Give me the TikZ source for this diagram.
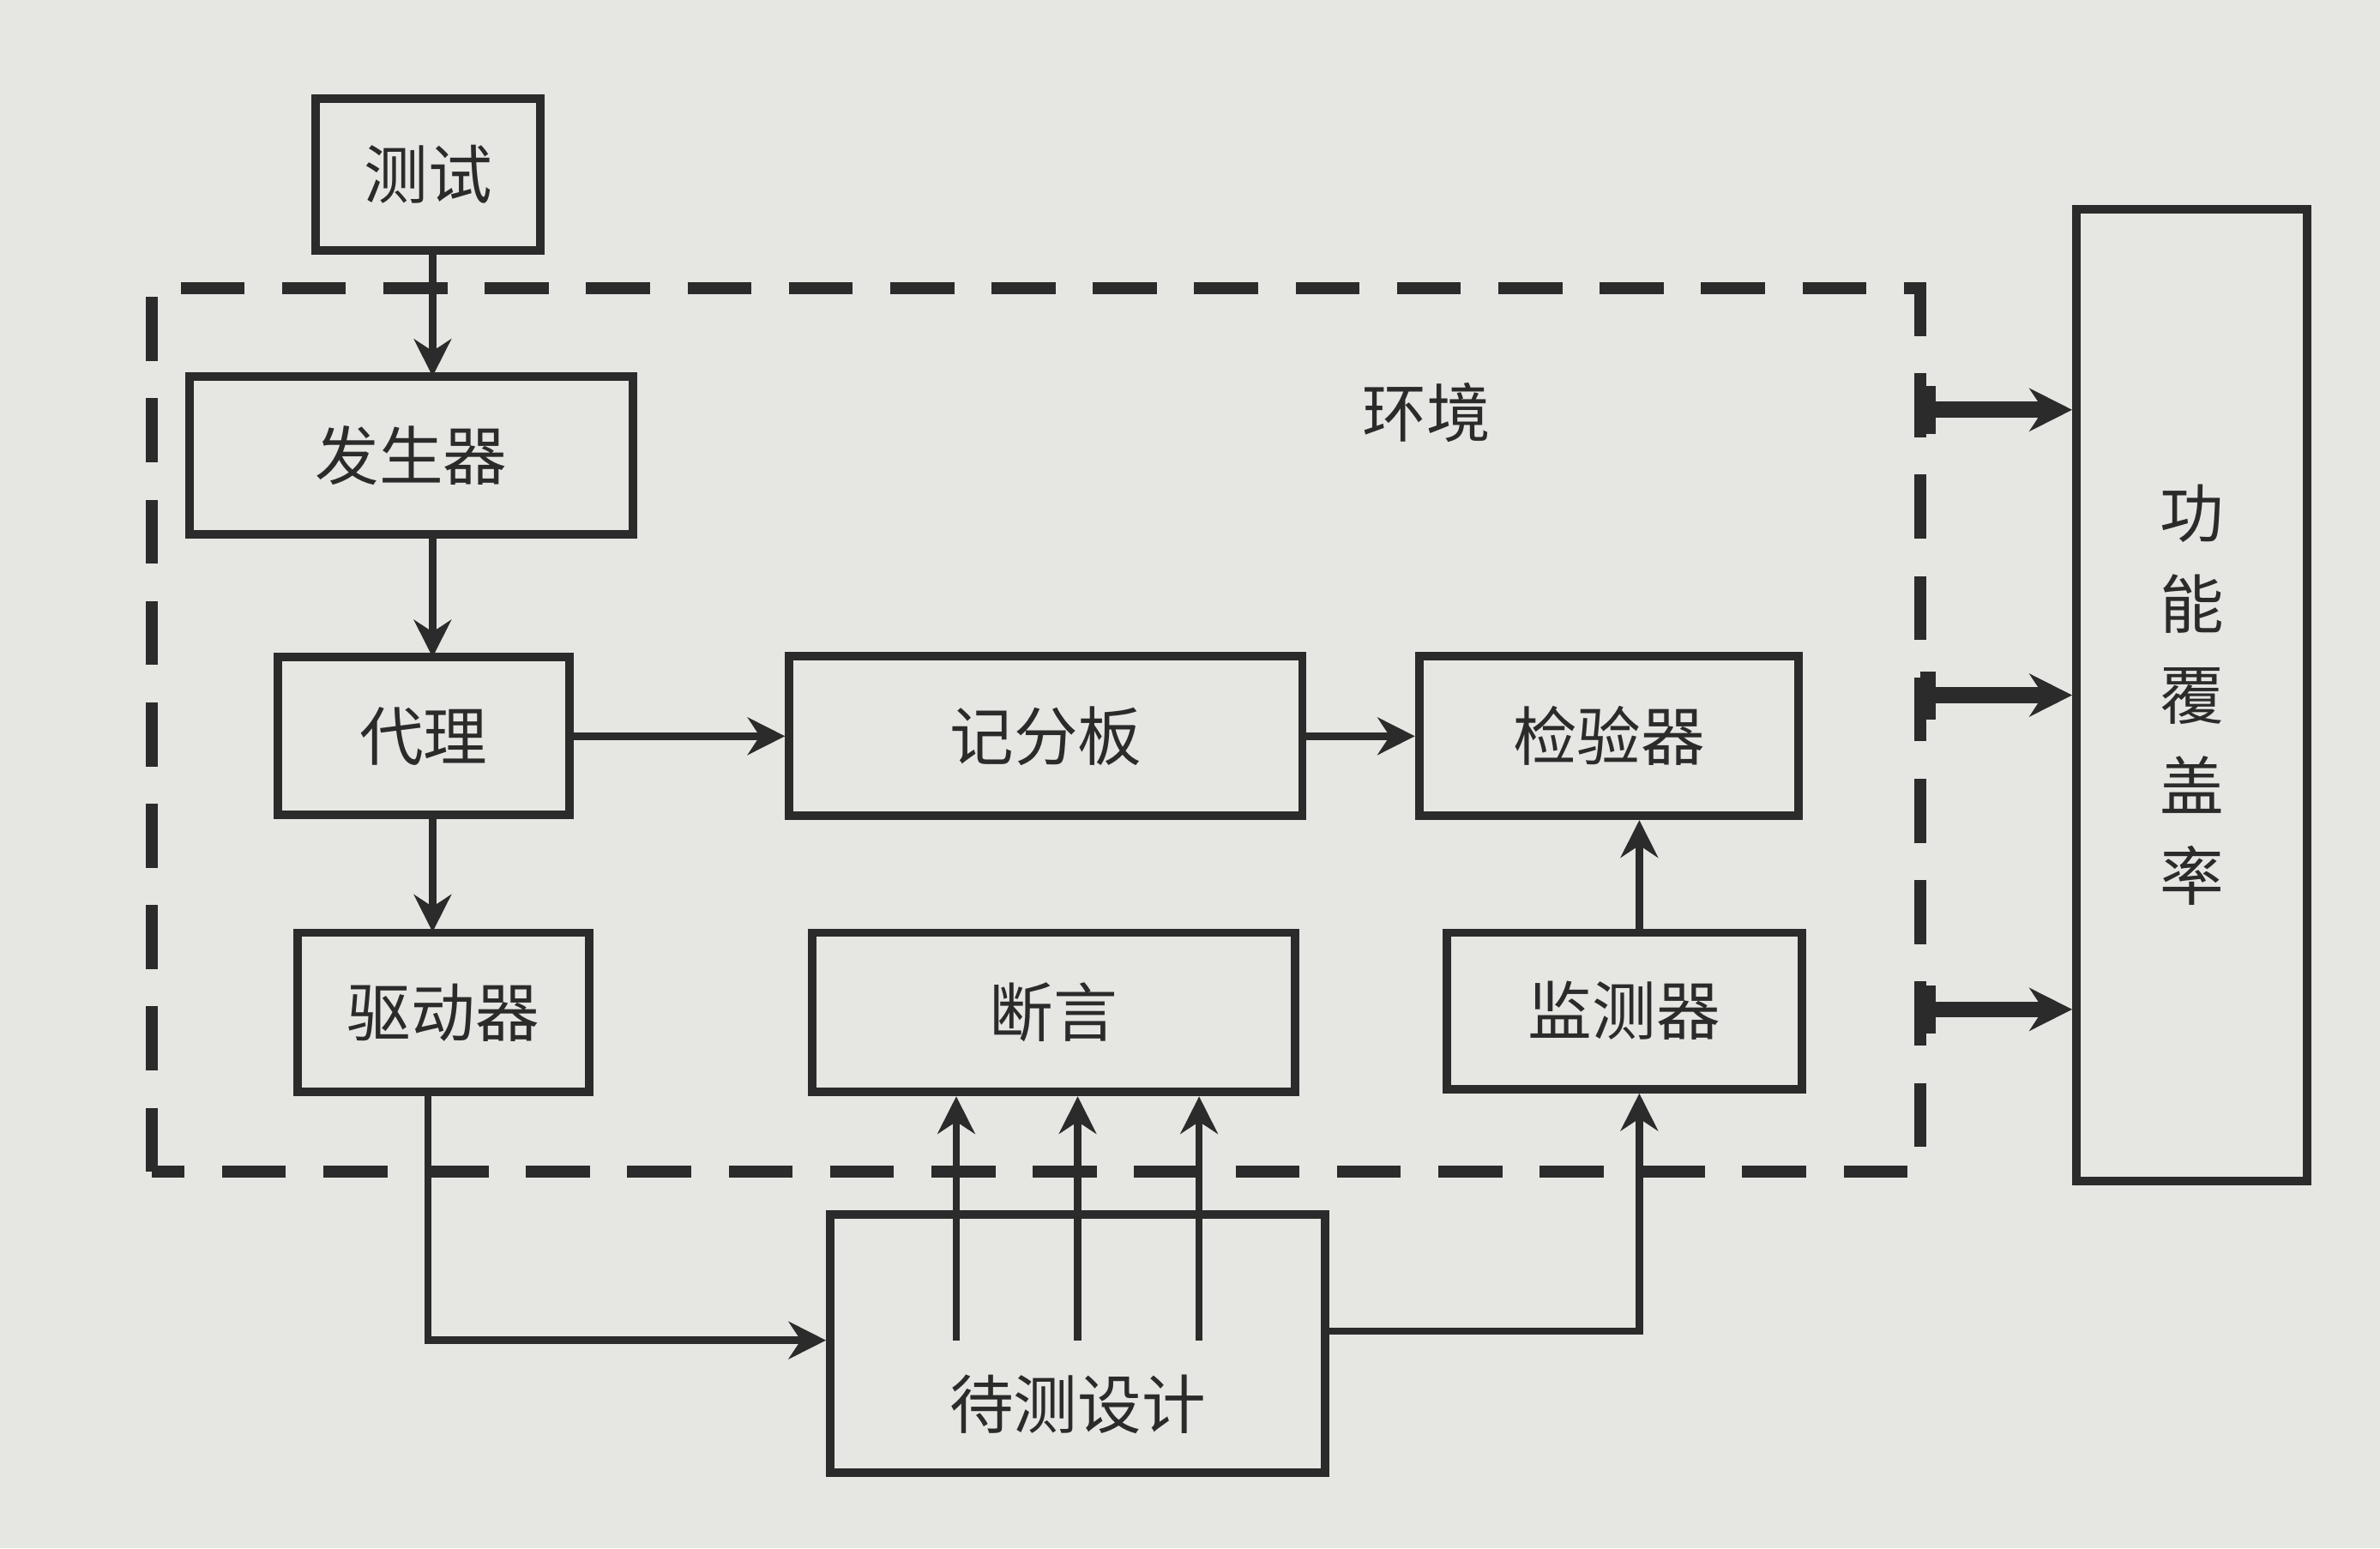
\documentclass[tikz,border=0pt]{standalone}
\usepackage{fontspec}
\setmainfont{Noto Sans CJK SC}
\usepackage{xcolor}
\usetikzlibrary{arrows.meta,positioning,calc}
\definecolor{paper}{HTML}{E6E6E3}
\definecolor{ink}{HTML}{2B2B2B}
\begin{document}
\begin{tikzpicture}[
  x=1cm, y=1cm,
  box/.style={rectangle, draw=ink, line width=1.6pt, inner sep=0pt, font=\fontsize{12}{14}\selectfont, text=ink},
  arrow/.style={-{Stealth[length=7pt,width=7pt]}, line width=1.4pt, draw=ink},
  cover/.style={{Bar[width=9pt]}-{Stealth[length=8pt,width=8pt]}, line width=3pt, draw=ink}
]
\fill[paper] (0,0) rectangle (15.68,10.20);
\useasboundingbox (0,0) rectangle (15.68,10.20);

% Environment
\draw[ink, line width=2.2pt, dash pattern=on 12pt off 7pt] (1.00,2.48) rectangle (12.65,8.30);
\node[font=\fontsize{12}{14}\selectfont, text=ink] (env) at (9.40,7.48) {环境};

% Boxes
\node[box, minimum width=1.48cm, minimum height=1.00cm] (test) at (2.82,9.05) {测试};
\node[box, minimum width=2.92cm, minimum height=1.04cm] (gen) at (2.71,7.20) {发生器};
\node[box, minimum width=1.92cm, minimum height=1.04cm] (agent) at (2.79,5.35) {代理};
\node[box, minimum width=1.92cm, minimum height=1.05cm] (drv) at (2.92,3.53) {驱动器};
\node[box, minimum width=3.38cm, minimum height=1.05cm] (sb) at (6.89,5.35) {记分板};
\node[box, minimum width=2.50cm, minimum height=1.05cm] (chk) at (10.60,5.35) {检验器};
\node[box, minimum width=3.18cm, minimum height=1.05cm] (assert) at (6.94,3.53) {断言};
\node[box, minimum width=2.34cm, minimum height=1.03cm] (mon) at (10.70,3.54) {监测器};
\node[box, minimum width=3.26cm, minimum height=1.70cm, text depth=0pt] (dut) at (7.10,1.35) {};
\node[font=\fontsize{12}{14}\selectfont, text=ink] (dutlabel) at (7.10,0.95) {待测设计};
\node[box, minimum width=1.52cm, minimum height=6.40cm, align=center, font=\fontsize{12}{17}\selectfont] (cov) at (14.44,5.62) {功\\能\\覆\\盖\\率};

% Arrows
\draw[arrow] (2.85,8.55) -- (2.85,7.72);
\draw[arrow] (2.85,6.68) -- (2.85,5.87);
\draw[arrow] (2.85,4.83) -- (2.85,4.06);
\draw[arrow] (agent) -- (sb);
\draw[arrow] (sb) -- (chk);
\draw[arrow] (mon.north -| 10.80,0) -- (chk.south -| 10.80,0);
\draw[arrow] (drv.south -| 2.82,0) |- (dut.west |- 0,1.37);
\draw[arrow] (dut.east |- 0,1.43) -| (mon.south -| 10.80,0);
\foreach \x in {6.30,7.10,7.90}
  \draw[arrow] (\x,1.37) -- (assert.south -| \x,0);

% Coverage
\foreach \y in {7.50,5.62,3.55}
  \draw[cover] (12.65,\y) -- (cov.west |- 0,\y);
\end{tikzpicture}
\end{document}
